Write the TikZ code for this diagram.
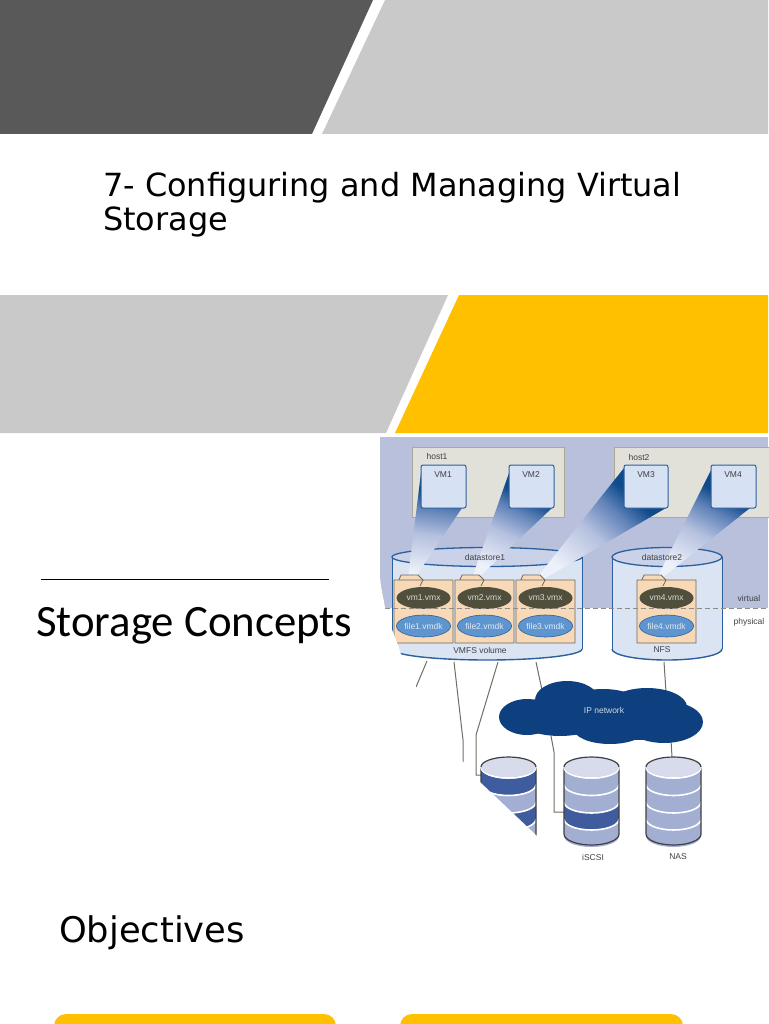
\documentclass[tikz,border=0pt]{standalone}
\usepackage{fontspec}
\setmainfont{DejaVu Sans}
\newfontfamily\carlito{Carlito}
\newfontfamily\liberation{Liberation Sans}
\usetikzlibrary{calc,shapes.geometric}
\definecolor{darkband}{HTML}{595959}
\definecolor{greyband}{HTML}{C9C9C9}
\definecolor{yellowband}{HTML}{FFC000}
\definecolor{virtualbg}{HTML}{B8C0DC}
\definecolor{hostfill}{HTML}{E2E1D9}
\definecolor{hostline}{HTML}{A9AA98}
\definecolor{blueline}{HTML}{2C5F9E}
\definecolor{vmfill}{HTML}{D6E1F3}
\definecolor{volfill}{HTML}{DBE4F3}
\definecolor{voltop}{HTML}{C9D2E8}
\definecolor{beamdark}{HTML}{0F4A8A}
\definecolor{beammid}{HTML}{5F82B8}
\definecolor{beamlight}{HTML}{B4C0DE}
\definecolor{beamend}{HTML}{EDF1FA}
\definecolor{folderfill}{HTML}{F7D9B8}
\definecolor{folderline}{HTML}{6D6A5C}
\definecolor{vmxfill}{HTML}{4F4F3C}
\definecolor{vmdkfill}{HTML}{5F95CF}
\definecolor{linkgrey}{HTML}{6E6E62}
\definecolor{cloudblue}{HTML}{0E4080}
\definecolor{disktop}{HTML}{D7DBEC}
\definecolor{diskband}{HTML}{A3AED3}
\definecolor{diskdark}{HTML}{3F5C9E}
\pgfdeclareverticalshading{beamshade}{100bp}{color(0bp)=(beamend); color(25bp)=(beamend); color(45bp)=(beamlight); color(58bp)=(beammid); color(67bp)=(beamdark); color(100bp)=(beamdark)}
\tikzset{
	heading/.style={anchor=base west,inner sep=0pt,align=left},
	small/.style={inner sep=0pt,font=\liberation\fontsize{8.5}{10}\selectfont,text=black!75},
	hostbox/.style={draw=hostline,fill=hostfill,line width=0.8pt},
	vmbox/.style={draw=blueline,fill=vmfill,line width=1pt,rounded corners=2pt},
	folder/.style={draw=folderline,fill=folderfill,line width=0.8pt},
	vmxfile/.style={fill=vmxfill},
	vmdkfile/.style={draw=blueline,fill=vmdkfill,line width=0.6pt},
	link/.style={draw=linkgrey,line width=1pt},
}
\begin{document}
\begin{tikzpicture}[x=1pt,y=-1pt]
\useasboundingbox (0,0) rectangle (768,1024);
% define volume (left x, right x, bottom of the sides)
\newcommand{\volumebox}[3]{
	\pgfmathsetmacro{\rx}{(#2-#1)/2}
	\fill[volfill] (#1,557) -- (#1,#3) arc[start angle=180,end angle=0,x radius=\rx,y radius=11] -- (#2,557) -- cycle;
	\draw[blueline,line width=0.8pt] (#1,557) -- (#1,#3);
	\draw[blueline,line width=0.8pt] (#2,557) -- (#2,#3);
	\draw[blueline,line width=1.4pt] (#1,#3) arc[start angle=180,end angle=0,x radius=\rx,y radius=11];
	\draw[blueline,fill=voltop,line width=1.3pt] ({(#1+#2)/2},557) ellipse ({\rx} and 9.5);
};
% define beam from a VM down to its folder
\newcommand{\vmbeam}[5]{
	\shade[shading=beamshade,shading angle=#5] (#1) -- (#2) -- (#3) -- (#4) -- cycle;
};
% define disk stack (left x, colours of four bands)
\newcommand{\diskstack}[5]{
	\fill[diskband] (#1,767) rectangle (#1+55,834);
	\foreach \y/\c in {767/#2,784.5/#3,802/#4,819/#5}{
		\fill[\c] (#1,\y) -- (#1,\y+17) arc[start angle=180,end angle=0,x radius=27.5,y radius=11] -- (#1+55,\y) arc[start angle=0,end angle=180,x radius=27.5,y radius=11] -- cycle;
		\draw[white,line width=1.6pt] (#1,\y) arc[start angle=180,end angle=0,x radius=27.5,y radius=11];
	}
	\draw[black!75,line width=1.2pt] (#1,767) -- (#1,834) arc[start angle=180,end angle=0,x radius=27.5,y radius=11] -- (#1+55,767);
	\draw[white,line width=1.6pt] (#1,767) arc[start angle=180,end angle=0,x radius=27.5,y radius=11];
	\fill[disktop] (#1+27.5,767) ellipse (27.5 and 10);
	\draw[black!75,line width=1.2pt] (#1,767) arc[start angle=180,end angle=360,x radius=27.5,y radius=10];
};
% title bands
\fill[darkband] (0,0) -- (373,0) -- (312,134) -- (0,134) -- cycle;
\fill[greyband] (385,0) -- (768,0) -- (768,134) -- (322,134) -- cycle;
\fill[greyband] (0,295) -- (448,295) -- (386,433) -- (0,433) -- cycle;
\fill[yellowband] (459,295) -- (768,295) -- (768,433) -- (395,433) -- cycle;
% texts left
\node[heading,font=\fontsize{31.9}{33}\selectfont] (title) at (103,230) {7- Configuring and Managing Virtual\\Storage};
\coordinate (rulea) at (41,579);
\coordinate (ruleb) at (329,579);
\draw[black,line width=0.8pt] (rulea) -- (ruleb);
\node[heading,font=\carlito\fontsize{44.8}{48}\selectfont] (concepts) at (36,636) {Storage Concepts};
\node[heading,font=\fontsize{35.3}{38}\selectfont] (objectives) at (59,942) {Objectives};
% yellow boxes at the foot
\fill[yellowband,rounded corners=12pt] (54,1014) rectangle (336,1050);
\fill[yellowband,rounded corners=12pt] (400,1014) rectangle (683,1050);
% virtual layer
\fill[virtualbg] (380,437) rectangle (768,608);
\draw[hostbox] (412,447) rectangle (564,517);
\draw[hostbox] (614,447) rectangle (769,517);
% volumes
\volumebox{392}{582}{649};
\volumebox{612}{722}{649};
% beams from the VMs
\vmbeam{421,473}{408,578}{415,578}{462,508}{-8};
\vmbeam{509,473}{472,578}{478,578}{552,508}{-25};
\vmbeam{624,468}{535,580}{542,580}{666,508}{-42};
\vmbeam{711,470}{657,578}{662,578}{750,508}{-28};
% VMs
\node[vmbox,minimum width=45pt,minimum height=43pt] (vm1) at (443.5,486.5) {};
\node[vmbox,minimum width=45pt,minimum height=43pt] (vm2) at (531.5,486.5) {};
\node[vmbox,minimum width=44pt,minimum height=43pt] (vm3) at (646,486.5) {};
\node[vmbox,minimum width=45pt,minimum height=43pt] (vm4) at (733.5,486.5) {};
% folders with files
\foreach \n/\x in {1/394,2/455,3/516,4/637}{
	\draw[folder] (\x+4,582) -- (\x+7,575) -- (\x+24,575) -- (\x+29,580) -- (\x+26,586) -- (\x+4,586) -- cycle;
	\draw[folder] (\x,580) -- (\x+29,580) -- (\x+26,586) -- (\x+29,580) -- (\x+59,580) -- (\x+59,643) -- (\x,643) -- cycle;
	\node[vmxfile,ellipse,minimum width=54pt,minimum height=22pt,inner sep=0pt,font=\liberation\fontsize{8.5}{10}\selectfont,text=white!85!black] (vmx\n) at (\x+29.5,598) {vm\n.vmx};
	\node[vmdkfile,ellipse,minimum width=54pt,minimum height=22pt,inner sep=0pt,font=\liberation\fontsize{8.5}{10}\selectfont,text=white!80!vmdkfill] (vmdk\n) at (\x+29.5,626) {file\n.vmdk};
}
% border virtual / physical
\coordinate (bordera) at (385,608);
\coordinate (borderb) at (768,608);
\draw[black!45,line width=0.7pt,dash pattern=on 5pt off 3pt] (bordera) -- (borderb);
% connection lines
\coordinate (linea) at (427,661);
\coordinate (lineaend) at (416,687);
\coordinate (lineb) at (454,662);
\coordinate (linebbend) at (463,740);
\coordinate (linebend) at (463,762);
\coordinate (linec) at (498,662);
\coordinate (linecbend) at (476,735);
\coordinate (linecturn) at (476,775);
\coordinate (linecend) at (482,775);
\coordinate (lined) at (536,662);
\coordinate (linedend) at (542,690);
\coordinate (linee) at (551,736);
\coordinate (lineebend) at (554,752);
\coordinate (lineeturn) at (554,812);
\coordinate (lineeend) at (565,812);
\coordinate (linef) at (664,662);
\coordinate (linefend) at (666,692);
\coordinate (lineg) at (671,740);
\coordinate (linegend) at (672,757);
\draw[link] (linea) -- (lineaend);
\draw[link] (lineb) -- (linebbend) -- (linebend);
\draw[link] (linec) -- (linecbend) -- (linecturn) -- (linecend);
\draw[link] (lined) -- (linedend);
\draw[link] (linee) -- (lineebend) -- (lineeturn) -- (lineeend);
\draw[link] (linef) -- (linefend);
\draw[link] (lineg) -- (linegend);
% cloud
\fill[cloudblue] (527,717) ellipse (28 and 18);
\fill[cloudblue] (567,700) ellipse (32 and 19);
\fill[cloudblue] (603,707) ellipse (40 and 18);
\fill[cloudblue] (647,707) ellipse (40 and 19);
\fill[cloudblue] (664,722) ellipse (39 and 21);
\fill[cloudblue] (610,728) ellipse (37 and 16);
\fill[cloudblue] (560,716) ellipse (45 and 20);
\fill[cloudblue] (635,722) ellipse (50 and 18);
\node[small,text=white!80!cloudblue] (ipnet) at (604,710) {IP network};
% disks
\diskstack{481}{diskdark}{diskband}{diskdark}{diskband};
\diskstack{564}{diskband}{diskband}{diskdark}{diskband};
\diskstack{646}{diskband}{diskband}{diskband}{diskband};
% the picture is cut off at lower left
\fill[white] (370,577) -- (380,577) .. controls (381,590) and (384,600) .. (385,608) .. controls (388,620) and (392,630) .. (395,637) .. controls (398,645) and (400,652) .. (402,657) -- (416,687) -- (463,762) -- (481,783) -- (536,835) -- (536,880) -- (370,880) -- cycle;
% labels
\node[small] (host1) at (437,456) {host1};
\node[small] (host2) at (639,457) {host2};
\foreach \n/\x in {1/443,2/531,3/646,4/733}
	\node[small] (vmlabel\n) at (\x,475) {VM\n};
\node[small] (store1) at (485,557) {datastore1};
\node[small] (store2) at (662,557) {datastore2};
\node[small] (vmfs) at (480,650) {VMFS volume};
\node[small] (nfs) at (662,650) {NFS};
\node[small] (virtual) at (749,598) {virtual};
\node[small] (physical) at (749,622) {physical};
\node[small] (iscsi) at (593,857) {iSCSI};
\node[small] (nas) at (678,857) {NAS};
\end{tikzpicture}
\end{document}
